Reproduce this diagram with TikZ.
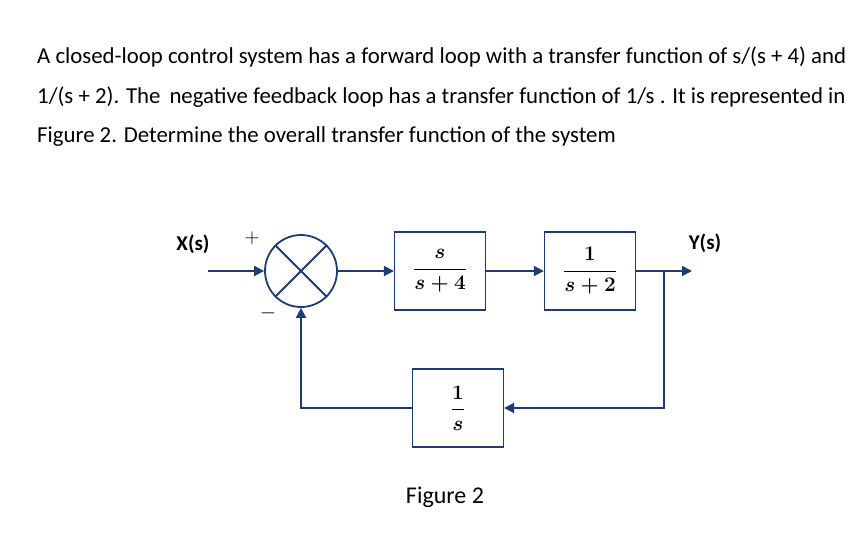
\documentclass[tikz,border=0pt]{standalone}
\usepackage{amsmath}
\usepackage{fontspec}
\setmainfont{Carlito}
\usetikzlibrary{arrows.meta}
\definecolor{navy}{HTML}{1F3B73}
\tikzset{
  blk/.style={draw=navy,line width=1.3pt,minimum width=91pt,minimum height=78pt,inner sep=0pt,font=\fontsize{21}{25}\selectfont\boldmath},
  conn/.style={draw=navy,line width=1.8pt,-{Triangle[length=10pt,width=10pt]}},
  txt/.style={font=\fontsize{22.8}{27}\selectfont,anchor=west,inner sep=0pt},
  lab/.style={font=\fontsize{21}{25}\selectfont,inner sep=0pt}
}
\begin{document}
\begin{tikzpicture}[x=1pt,y=-1pt]
\useasboundingbox (0,0) rectangle (863,542);
\fill[white] (0,0) rectangle (863,542);
\node[txt] (l1) at (37,57) {A closed-loop control system has a forward loop with a transfer function of s/(s + 4) and};
\node[txt] (l2) at (37,97) {1/(s + 2). The\, negative feedback loop has a transfer function of 1/s . It is represented in};
\node[txt] (l3) at (37,137) {Figure 2. Determine the overall transfer function of the system};
\node[draw=navy,line width=1.8pt,circle,minimum size=72pt,inner sep=0pt] (sum) at (301,271) {};
\draw[navy,line width=1.8pt] (sum.north west)--(sum.south east) (sum.north east)--(sum.south west);
\node[blk] (g1) at (440,271) {$\dfrac{s}{s+4}$};
\node[blk] (g2) at (590,271) {$\dfrac{1}{s+2}$};
\node[blk] (h) at (458,408) {$\dfrac{1}{s}$};
\coordinate (in) at (208,271);
\coordinate (j) at (664,271);
\coordinate (out) at (692,271);
\draw[conn] (in) -- (sum);
\draw[conn] (sum) -- (g1);
\draw[conn] (g1) -- (g2);
\draw[conn] (g2.east) -- (out);
\draw[conn] (j) |- (h.east);
\draw[conn] (h.west) -| (sum.south);
\node[lab] (x) at (193,244) {\textbf{X(s)}};
\node[lab] (y) at (705,243) {\textbf{Y(s)}};
\node[lab] (p) at (252,238) {$+$};
\node[lab] (m) at (268,313) {$-$};
\node[lab,font=\fontsize{24}{28}\selectfont] (f) at (445,497) {Figure 2};
\end{tikzpicture}
\end{document}
